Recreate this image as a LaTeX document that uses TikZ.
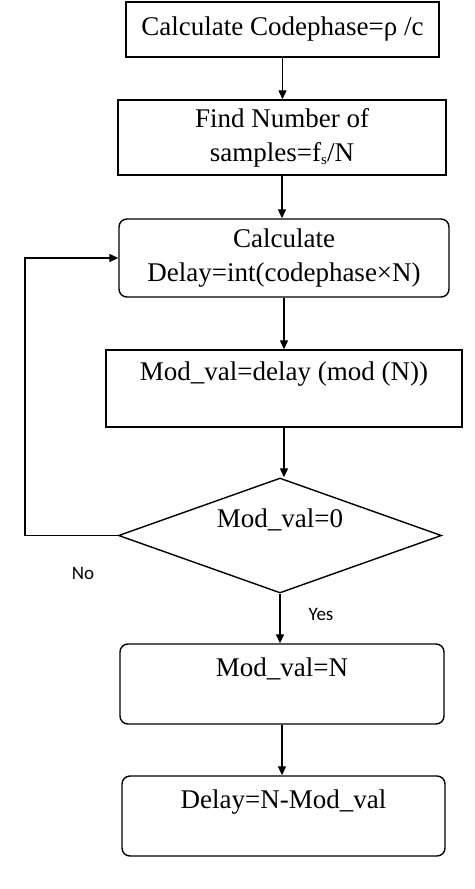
\documentclass[tikz,border=0pt]{standalone}
\usepackage{fontspec}
\setmainfont{Liberation Serif}
\newfontfamily\labfont{Carlito}
\usetikzlibrary{shapes.geometric,arrows.meta}
\begin{document}
\begin{tikzpicture}[x=1pt,y=1pt,
  box/.style={draw, line width=1.4pt, inner sep=0pt, align=center,
    font=\fontsize{27}{34}\selectfont},
  rbox/.style={box, rounded corners=8pt},
  flow/.style={line width=1.3pt, -{Triangle[length=9pt,width=8pt]}},
  lab/.style={font=\labfont\fontsize{19}{22}\selectfont}]
\useasboundingbox (0,0) rectangle (474,-889);
\node[box, minimum width=313pt, minimum height=55pt] (b1) at (282.5,-29.5) {Calculate Codephase=ρ /c};
\node[box, minimum width=328pt, minimum height=75pt] (b2) at (282,-137.5) {Find Number of\\samples=f\raisebox{-3pt}{\fontsize{15}{15}\selectfont s}/N};
\node[rbox, minimum width=330pt, minimum height=78pt] (b3) at (284,-258) {Calculate\\Delay=int(codephase×N)};
\node[box, minimum width=356pt, minimum height=77pt] (b4) at (284,-388.5) {Mod\_val=delay (mod (N))\\\mbox{}};
\node[draw, line width=1.4pt, diamond, aspect=2.8, inner sep=0pt, minimum width=323pt, minimum height=115pt, align=center, font=\fontsize{27}{34}\selectfont] (d) at (280,-535.5) {Mod\_val=0\\\mbox{}};
\node[rbox, minimum width=324pt, minimum height=80pt] (b5) at (282,-684) {Mod\_val=N\\\mbox{}};
\node[rbox, minimum width=323pt, minimum height=80pt] (b6) at (283.5,-816) {Delay=N-Mod\_val\\\mbox{}};
\coordinate (lp) at (25,-535.5);
\draw[flow] (b1.south) -- (b1.south |- b2.north);
\draw[flow] (b2.south) -- (b2.south |- b3.north);
\draw[flow] (b3.south) -- (b3.south |- b4.north);
\draw[flow] (b4.south) -- (b4.south |- d.north);
\draw[flow] (d.south) -- (d.south |- b5.north);
\draw[flow] (b5.south) -- (b5.south |- b6.north);
\draw[flow] (d.west) -- (lp) |- (b3.west);
\node[lab] (no) at (83,-573) {No};
\node[lab] (yes) at (321,-614) {Yes};
\end{tikzpicture}
\end{document}
